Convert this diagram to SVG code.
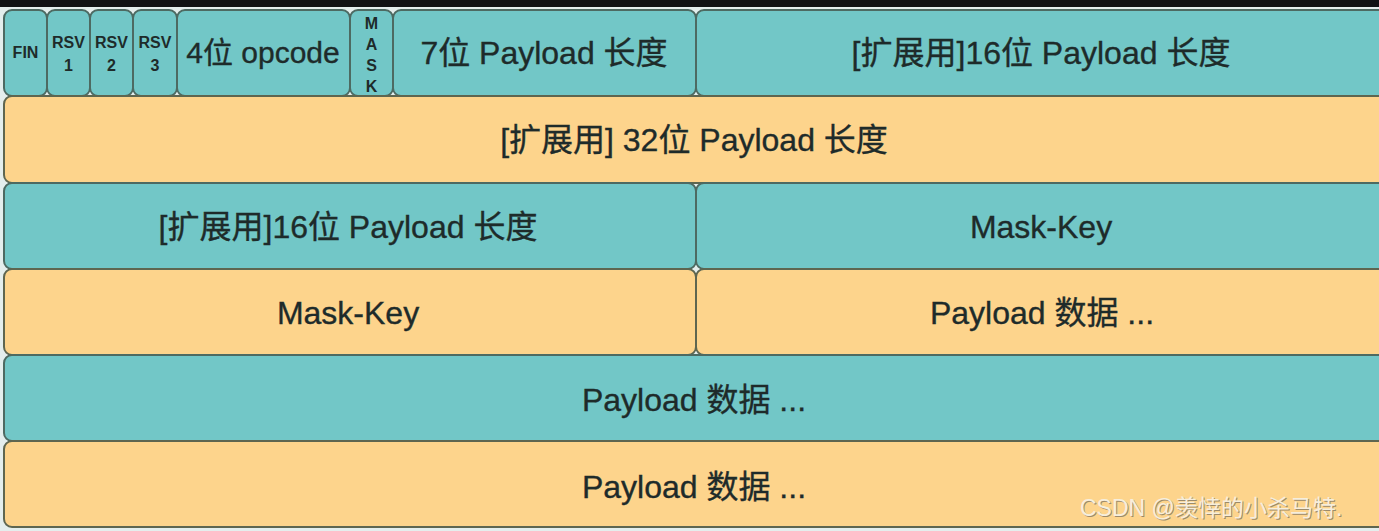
<svg xmlns="http://www.w3.org/2000/svg" width="1379" height="531" viewBox="0 0 1379 531">
<style>
.t{fill:#72c7c7;stroke:#4d6a62;stroke-width:2}
.o{fill:#fdd48c;stroke:#5e6650;stroke-width:2}
text{font-family:"Liberation Sans","Noto Sans CJK SC",sans-serif;fill:#1e2b2a;text-anchor:middle}
.L{font-size:32px;stroke:#1e2b2a;stroke-width:0.35}
.M{font-size:30px;stroke:#1e2b2a;stroke-width:0.35}
.S{font-size:16px;font-weight:bold}
.wm{font-size:23px;text-anchor:start}
.wf{fill:#f6eedc}
.ws{fill:#9c8a6a}
</style>
<rect x="0" y="0" width="1379" height="531" fill="#e4eeed"/>
<rect x="0" y="0" width="1379" height="7" fill="#111214"/>
<g id="fin"><rect class="t" x="4" y="10" width="43" height="86" rx="8"/><text class="S" x="25.5" y="58">FIN</text></g>
<g id="rsv1"><rect class="t" x="47" y="10" width="43" height="86" rx="8"/><text class="S" x="68.5" y="48">RSV</text><text class="S" x="68.5" y="71">1</text></g>
<g id="rsv2"><rect class="t" x="90" y="10" width="43" height="86" rx="8"/><text class="S" x="111.5" y="48">RSV</text><text class="S" x="111.5" y="71">2</text></g>
<g id="rsv3"><rect class="t" x="133" y="10" width="44" height="86" rx="8"/><text class="S" x="155" y="48">RSV</text><text class="S" x="155" y="71">3</text></g>
<g id="opcode"><rect class="t" x="177" y="10" width="173" height="86" rx="8"/><text class="M" x="263" y="63">4位 opcode</text></g>
<g id="mask"><rect class="t" x="350" y="10" width="43" height="86" rx="8"/><text class="S" x="371.5" y="29">M</text><text class="S" x="371.5" y="50">A</text><text class="S" x="371.5" y="71">S</text><text class="S" x="371.5" y="92">K</text></g>
<g id="len7"><rect class="t" x="393" y="10" width="303" height="86" rx="8"/><text class="L" x="544" y="64">7位 Payload 长度</text></g>
<g id="len16a"><rect class="t" x="696" y="10" width="700" height="86" rx="8"/><text class="L" x="1041" y="64">[扩展用]16位 Payload 长度</text></g>
<g id="len32"><rect class="o" x="4" y="96" width="1392" height="87" rx="8"/><text class="L" x="694" y="151">[扩展用] 32位 Payload 长度</text></g>
<g id="len16b"><rect class="t" x="4" y="183" width="692" height="86" rx="8"/><text class="L" x="348" y="238">[扩展用]16位 Payload 长度</text></g>
<g id="maskkey1"><rect class="t" x="696" y="183" width="700" height="86" rx="8"/><text class="L" x="1041" y="238">Mask-Key</text></g>
<g id="maskkey2"><rect class="o" x="4" y="269" width="692" height="86" rx="8"/><text class="L" x="348" y="324">Mask-Key</text></g>
<g id="data1"><rect class="o" x="696" y="269" width="700" height="86" rx="8"/><text class="L" x="1042" y="324">Payload 数据 ...</text></g>
<g id="data2"><rect class="t" x="4" y="355" width="1392" height="86" rx="8"/><text class="L" x="694" y="411">Payload 数据 ...</text></g>
<g id="data3"><rect class="o" x="4" y="441" width="1392" height="86" rx="8"/><text class="L" x="694" y="498">Payload 数据 ...</text></g>
<g id="connectors"></g>
<g id="watermark">
<text class="wm ws" x="1081" y="517">CSDN @羡悻的小杀马特.</text>
<text class="wm wf" x="1080" y="516">CSDN @羡悻的小杀马特.</text>
</g>
</svg>
